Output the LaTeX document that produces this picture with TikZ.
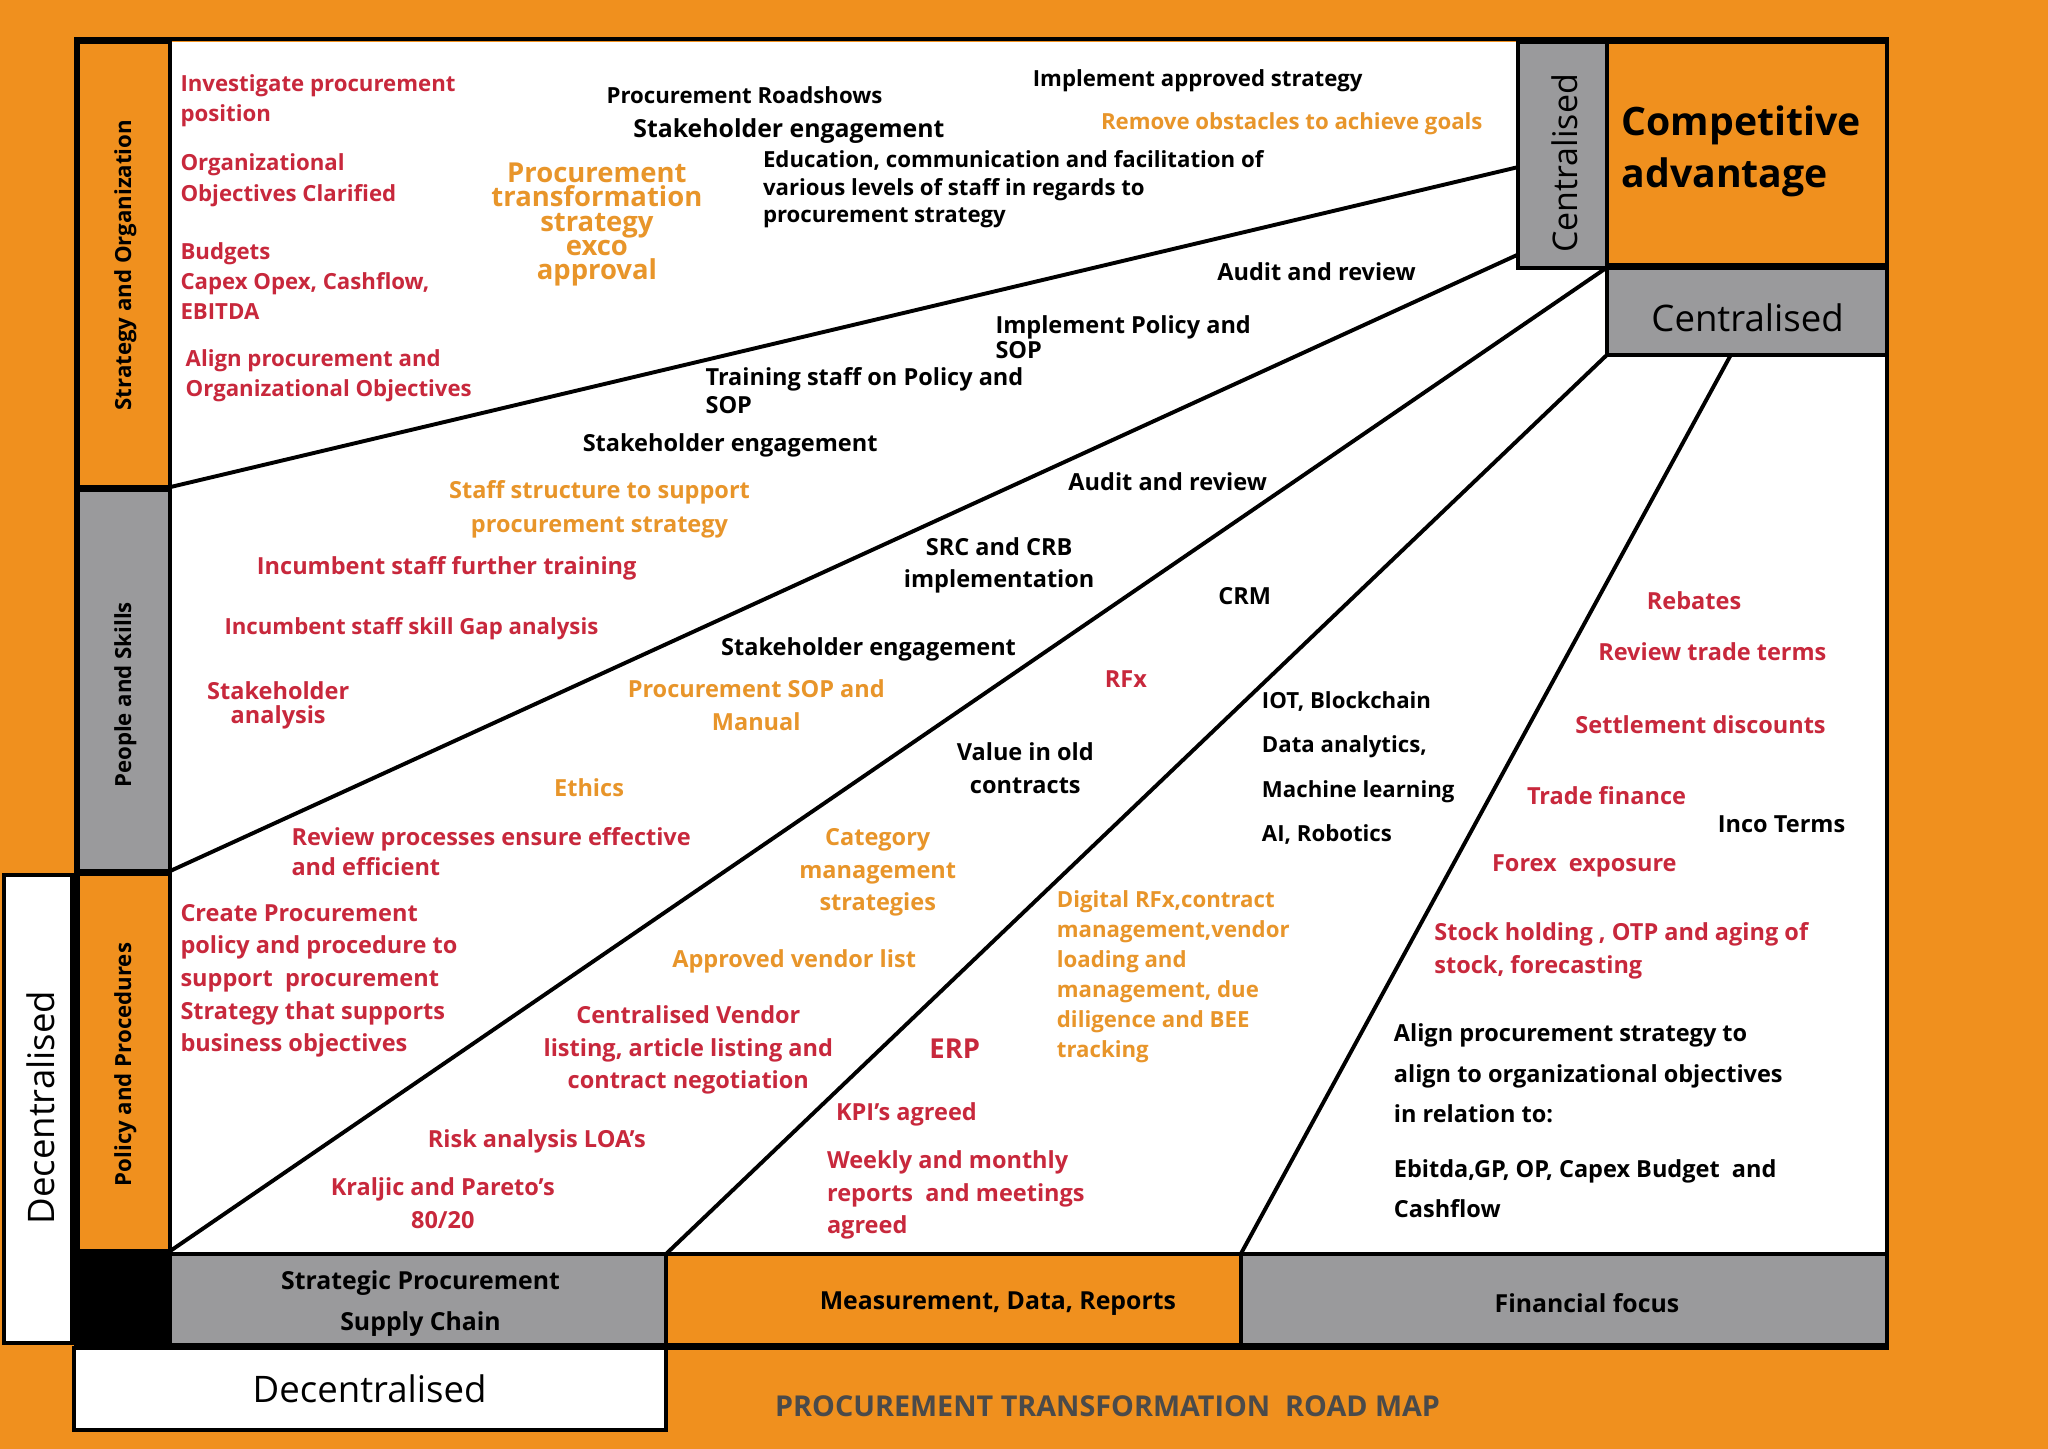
\documentclass[tikz,border=0pt]{standalone}
\usepackage{fontspec}
\setmainfont{Open Sans}
\definecolor{bgor}{HTML}{F0901E}
\definecolor{rd}{HTML}{C8283C}
\definecolor{orx}{HTML}{E8952A}
\definecolor{gr}{HTML}{9A9A9C}
\definecolor{tt}{HTML}{4A4A4A}
\begin{document}
\begin{tikzpicture}[x=1pt,y=-1pt,
 t/.style={font=\fontsize{17}{23}\selectfont\bfseries,inner sep=0pt,align=left},
 tr/.style={t,text=rd}, to/.style={t,text=orx}, tb/.style={t,text=black},
 bx/.style={draw=black,line width=3pt},
 ln/.style={line width=3pt}]
\useasboundingbox (0,0) rectangle (1568,1109);
\fill[bgor] (0,0) rectangle (1568,1109);
% main area
\fill[white] (130,32) rectangle (1445,960);
% left boxes
\draw[bx,fill=bgor] (60,32) rectangle (130,373);
\draw[bx,fill=gr] (60,375) rectangle (130,667);
\draw[bx,fill=bgor] (60,669) rectangle (130,958);
\draw[bx,fill=black] (58,958) rectangle (130,1030);
\draw[bx,fill=white] (3,670) rectangle (55,1028);
% bottom boxes
\draw[bx,fill=gr] (130,960) rectangle (510,1030);
\draw[bx,fill=bgor] (510,960) rectangle (950,1030);
\draw[bx,fill=gr] (950,960) rectangle (1445,1030);
\draw[bx,fill=white] (57,1032) rectangle (510,1095);
% top right
\draw[bx,fill=gr] (1162,32) rectangle (1230,205);
\draw[bx,fill=bgor] (1230,32) rectangle (1445,203);
\draw[bx,fill=gr] (1230,205) rectangle (1445,272);
\draw[bx] (58,30) rectangle (1445,1032);
% diagonal lines
\coordinate (a1) at (130,373); \coordinate (b1) at (1162,128);
\coordinate (a2) at (130,667); \coordinate (b2) at (1162,195);
\coordinate (a3) at (130,958); \coordinate (b3) at (1230,205);
\coordinate (a4) at (510,960); \coordinate (b4) at (1230,272);
\coordinate (a5) at (950,960); \coordinate (b5) at (1325,272);
\foreach \i in {1,...,5} \draw[ln] (a\i) -- (b\i);
% labels in boxes
\node[tb,rotate=90] (l1) at (96,203) {Strategy and Organization};
\node[tb,rotate=90] (l2) at (96,532) {People and Skills};
\node[tb,rotate=90] (l3) at (96,815) {Policy and Procedures};
\node[rotate=90,font=\fontsize{28}{30}\selectfont] (l4) at (31,848) {Decentralised};
\node[rotate=90,font=\fontsize{26}{30}\selectfont] (l5) at (1198,125) {Centralised};
\node[font=\fontsize{30}{40}\selectfont\bfseries,align=left,anchor=west] (l6) at (1238,116) {Competitive\\advantage};
\node[font=\fontsize{28}{30}\selectfont] (l7) at (1338,243) {Centralised};
\node[tb,align=center,font=\fontsize{19}{31}\selectfont\bfseries] (l8) at (322,998) {Strategic Procurement\\Supply Chain};
\node[tb,font=\fontsize{19}{31}\selectfont\bfseries] (l9) at (764,998) {Measurement, Data, Reports};
\node[tb,font=\fontsize{19}{31}\selectfont\bfseries] (l10) at (1215,998) {Financial focus};
\node[font=\fontsize{28}{30}\selectfont] (l11) at (283,1063) {Decentralised};
\node[text=tt,font=\fontsize{22}{26}\selectfont\bfseries] (title) at (848,1077) {PROCUREMENT TRANSFORMATION\ \ ROAD MAP};
% section 1
\node[tr,anchor=west] (s1) at (138,77) {Investigate procurement\\position};
\node[tr,anchor=west] (s2) at (138,138) {Organizational\\Objectives Clarified};
\node[tr,anchor=west] (s3) at (138,215) {Budgets\\Capex Opex, Cashflow,\\EBITDA};
\node[tr,anchor=west] (s4) at (142,288) {Align procurement and\\Organizational Objectives};
\node[to,align=center,font=\fontsize{21}{18.5}\selectfont\bfseries] (s5) at (457,172) {Procurement\\transformation\\strategy\\exco\\approval};
\node[tb] (s6) at (570,73) {Procurement Roadshows};
\node[tb,font=\fontsize{19}{23}\selectfont\bfseries] (s7) at (604,100) {Stakeholder engagement};
\node[tb,anchor=west,font=\fontsize{17}{21}\selectfont\bfseries] (s8) at (584,145) {Education, communication and facilitation of\\various levels of staff in regards to\\procurement strategy};
\node[tb] (s9) at (917,62) {Implement approved strategy};
\node[to] (s10) at (989,95) {Remove obstacles to achieve goals};
% section 2
\node[tb,font=\fontsize{18}{23}\selectfont\bfseries] (p1) at (1008,208) {Audit and review};
\node[tb,anchor=west,font=\fontsize{18}{19}\selectfont\bfseries] (p2) at (762,258) {Implement Policy and\\SOP};
\node[tb,anchor=west,font=\fontsize{18}{22}\selectfont\bfseries] (p3) at (540,299) {Training staff on Policy and\\SOP};
\node[tb,font=\fontsize{18}{23}\selectfont\bfseries] (p4) at (559,341) {Stakeholder engagement};
% section 3
\node[tb,font=\fontsize{18}{23}\selectfont\bfseries] (q1) at (894,369) {Audit and review};
\node[to,align=center,font=\fontsize{18}{26}\selectfont\bfseries] (q2) at (459,390) {Staff structure to support\\procurement strategy};
\node[tr,font=\fontsize{18}{23}\selectfont\bfseries] (q3) at (342,435) {Incumbent staff further training};
\node[tr] (q4) at (315,481) {Incumbent staff skill Gap analysis};
\node[tb,align=center,font=\fontsize{18}{25}\selectfont\bfseries] (q5) at (765,433) {SRC and CRB\\implementation};
\node[tb,font=\fontsize{18}{23}\selectfont\bfseries] (q6) at (665,497) {Stakeholder engagement};
\node[tr,align=center,font=\fontsize{18}{18}\selectfont\bfseries] (q7) at (213,540) {Stakeholder\\analysis};
\node[to,align=center,font=\fontsize{18}{25}\selectfont\bfseries] (q8) at (579,540) {Procurement SOP and\\Manual};
\node[to,font=\fontsize{18}{23}\selectfont\bfseries] (q9) at (451,603) {Ethics};
\node[tr,anchor=west,font=\fontsize{18}{23}\selectfont\bfseries] (q10) at (223,652) {Review processes ensure effective\\and efficient};
\node[tb,font=\fontsize{18}{23}\selectfont\bfseries] (q11) at (953,456) {CRM};
\node[tr,font=\fontsize{18}{23}\selectfont\bfseries] (q12) at (862,520) {RFx};
\node[tb,align=center,font=\fontsize{18}{25}\selectfont\bfseries] (q13) at (785,588) {Value in old\\contracts};
% section 4
\node[tr,anchor=west,font=\fontsize{18}{25}\selectfont\bfseries] (r1) at (138,751) {Create Procurement\\policy and procedure to\\support\ \ procurement\\Strategy that supports\\business objectives};
\node[to,align=center,font=\fontsize{18}{25}\selectfont\bfseries] (r2) at (672,668) {Category\\management\\strategies};
\node[to,font=\fontsize{18}{23}\selectfont\bfseries] (r3) at (608,736) {Approved vendor list};
\node[tr,align=center,font=\fontsize{18}{25}\selectfont\bfseries] (r4) at (527,804) {Centralised Vendor\\listing, article listing and\\contract negotiation};
\node[tr,font=\fontsize{18}{23}\selectfont\bfseries] (r5) at (411,874) {Risk analysis LOA's};
\node[tr,align=center,font=\fontsize{18}{25}\selectfont\bfseries] (r6) at (339,921) {Kraljic and Pareto's\\80/20};
\node[tr,font=\fontsize{21}{23}\selectfont\bfseries] (r7) at (731,803) {ERP};
\node[tr,font=\fontsize{18}{23}\selectfont\bfseries] (r8) at (694,853) {KPI's agreed};
\node[tr,anchor=west,font=\fontsize{18}{25}\selectfont\bfseries] (r9) at (633,915) {Weekly and monthly\\reports\ \ and meetings\\agreed};
% section 5
\node[tb,anchor=west,font=\fontsize{17}{34}\selectfont\bfseries] (u1) at (966,588) {IOT, Blockchain\\Data analytics,\\Machine learning\\AI, Robotics};
\node[to,anchor=west,font=\fontsize{17}{23}\selectfont\bfseries] (u2) at (809,748) {Digital RFx,contract\\management,vendor\\loading and\\management, due\\diligence and BEE\\tracking};
% right
\node[tr,font=\fontsize{18}{23}\selectfont\bfseries] (v1) at (1297,460) {Rebates};
\node[tr,font=\fontsize{18}{23}\selectfont\bfseries] (v2) at (1311,499) {Review trade terms};
\node[tr,font=\fontsize{18}{23}\selectfont\bfseries] (v3) at (1302,555) {Settlement discounts};
\node[tr,font=\fontsize{18}{23}\selectfont\bfseries] (v4) at (1230,609) {Trade finance};
\node[tb,font=\fontsize{18}{23}\selectfont\bfseries] (v5) at (1364,631) {Inco Terms};
\node[tr,font=\fontsize{18}{23}\selectfont\bfseries] (v6) at (1213,663) {Forex\ \ exposure};
\node[tr,anchor=west,font=\fontsize{18}{25}\selectfont\bfseries] (v7) at (1098,728) {Stock holding , OTP and aging of\\stock, forecasting};
\node[tb,anchor=west,font=\fontsize{18}{31}\selectfont\bfseries] (v8) at (1067,822) {Align procurement strategy to\\align to organizational objectives\\in relation to:};
\node[tb,anchor=west,font=\fontsize{18}{30}\selectfont\bfseries] (v9) at (1067,910) {Ebitda,GP, OP, Capex Budget\ \ and\\Cashflow};
\end{tikzpicture}
\end{document}
